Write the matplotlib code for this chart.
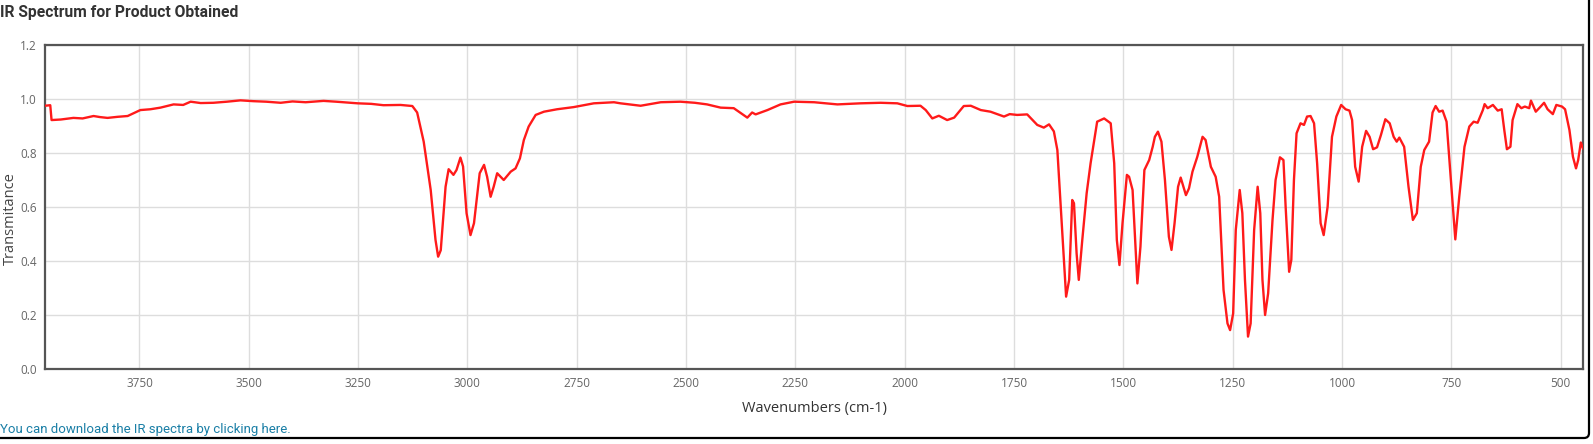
import numpy as np
import matplotlib
matplotlib.use("Agg")
import matplotlib.pyplot as plt
from matplotlib.patches import FancyBboxPatch

# ---------- Data ----------
wavenumber = [
    3966, 3960, 3954, 3951, 3930, 3901, 3880, 3855, 3840, 3823, 3800, 3777, 3748,
    3725, 3702, 3672, 3650, 3633, 3610, 3581, 3550, 3519, 3490, 3460, 3427, 3400,
    3370, 3329, 3300, 3251, 3220, 3192, 3153, 3126, 3115, 3100, 3084, 3073, 3067,
    3061, 3050, 3043, 3032, 3025, 3016, 3010, 3002, 2993, 2985, 2972, 2962, 2955,
    2947, 2940, 2932, 2917, 2901, 2890, 2880, 2871, 2860, 2844, 2825, 2795, 2757,
    2711, 2665, 2650, 2604, 2558, 2513, 2480, 2452, 2421, 2391, 2360, 2349, 2341,
    2314, 2284, 2253, 2207, 2154, 2101, 2055, 2017, 1994, 1964, 1952, 1937, 1922,
    1903, 1887, 1865, 1849, 1826, 1804, 1773, 1760, 1743, 1720, 1697, 1682, 1670,
    1659, 1651, 1640, 1631, 1624, 1617, 1613, 1607, 1602, 1594, 1584, 1575, 1560,
    1544, 1529, 1521, 1515, 1509, 1502, 1492, 1487, 1479, 1473, 1468, 1461, 1452,
    1441, 1433, 1428, 1421, 1413, 1405, 1396, 1390, 1383, 1375, 1369, 1357, 1350,
    1342, 1331, 1319, 1312, 1300, 1289, 1281, 1271, 1262, 1256, 1249, 1243, 1234,
    1228, 1222, 1215, 1209, 1201, 1193, 1187, 1182, 1176, 1169, 1159, 1152, 1142,
    1134, 1129, 1121, 1116, 1110, 1104, 1095, 1087, 1080, 1072, 1064, 1057, 1049,
    1042, 1033, 1023, 1013, 1002, 992, 983, 977, 970, 962, 954, 945, 937, 929, 920,
    911, 901, 891, 882, 875, 869, 858, 848, 838, 829, 820, 812, 801, 793, 786, 778,
    770, 761, 751, 741, 732, 720, 709, 699, 690, 678, 674, 667, 655, 644, 635, 629,
    623, 615, 610, 599, 590, 582, 572, 568, 557, 547, 538, 530, 518, 510, 497, 490,
    480, 472, 465, 460, 454, 449,
]
transmittance = [
    0.975, 0.976, 0.977, 0.922, 0.924, 0.930, 0.928, 0.937, 0.933, 0.930, 0.934, 0.937, 0.959,
    0.962, 0.968, 0.980, 0.978, 0.990, 0.985, 0.986, 0.990, 0.995, 0.992, 0.990, 0.986, 0.991,
    0.988, 0.993, 0.990, 0.984, 0.982, 0.977, 0.978, 0.974, 0.950, 0.842, 0.663, 0.478, 0.416,
    0.440, 0.675, 0.740, 0.719, 0.737, 0.783, 0.750, 0.577, 0.496, 0.540, 0.725, 0.756, 0.712,
    0.638, 0.675, 0.725, 0.700, 0.731, 0.743, 0.780, 0.848, 0.898, 0.941, 0.953, 0.962, 0.970,
    0.984, 0.988, 0.984, 0.975, 0.988, 0.990, 0.986, 0.980, 0.968, 0.966, 0.931, 0.950, 0.943,
    0.959, 0.980, 0.990, 0.988, 0.980, 0.984, 0.986, 0.984, 0.974, 0.975, 0.959, 0.928, 0.938,
    0.922, 0.931, 0.974, 0.975, 0.959, 0.953, 0.935, 0.944, 0.941, 0.943, 0.904, 0.894, 0.906,
    0.880, 0.811, 0.515, 0.268, 0.330, 0.626, 0.614, 0.428, 0.330, 0.478, 0.651, 0.762, 0.916,
    0.928, 0.910, 0.762, 0.478, 0.385, 0.540, 0.719, 0.712, 0.663, 0.478, 0.317, 0.453, 0.737,
    0.774, 0.823, 0.860, 0.879, 0.842, 0.700, 0.490, 0.441, 0.540, 0.675, 0.709, 0.644, 0.669,
    0.731, 0.786, 0.860, 0.848, 0.749, 0.712, 0.638, 0.293, 0.169, 0.144, 0.206, 0.515, 0.663,
    0.577, 0.330, 0.120, 0.169, 0.515, 0.675, 0.577, 0.330, 0.200, 0.280, 0.552, 0.700, 0.784,
    0.774, 0.601, 0.360, 0.404, 0.700, 0.873, 0.910, 0.904, 0.935, 0.937, 0.910, 0.762, 0.540,
    0.496, 0.601, 0.860, 0.935, 0.978, 0.962, 0.957, 0.922, 0.749, 0.694, 0.823, 0.882, 0.860, 0.814, 0.821,
    0.867, 0.925, 0.910, 0.860, 0.842, 0.857, 0.823, 0.675, 0.552, 0.577, 0.749, 0.811, 0.842, 0.950, 0.974, 0.953,
    0.957, 0.916, 0.700, 0.480, 0.638, 0.823, 0.898, 0.916, 0.912, 0.959, 0.981, 0.966, 0.978, 0.957, 0.962, 0.885,
    0.814, 0.823, 0.922, 0.981, 0.966, 0.972, 0.966, 0.994, 0.953, 0.970, 0.986, 0.962, 0.944, 0.978, 0.972, 0.962,
    0.885, 0.786, 0.743, 0.774, 0.839, 0.817,
]

x_ticks = [3750, 3500, 3250, 3000, 2750, 2500, 2250, 2000, 1750, 1500, 1250, 1000, 750, 500]
y_ticks = [0.0, 0.2, 0.4, 0.6, 0.8, 1.0, 1.2]

# ---------- Figure ----------
W, H = 1593, 444
fig = plt.figure(figsize=(W / 100, H / 100), dpi=100)
fig.patch.set_facecolor("white")

ax = fig.add_axes([45 / W, 1 - 369 / H, (1583 - 45) / W, (369 - 45) / H])
ax.plot(wavenumber, transmittance, color="#ff1a1a", lw=1.7, zorder=3)

ax.set_xlim(max(wavenumber), min(wavenumber))
ax.set_ylim(0, 1.2)
ax.set_xticks(x_ticks)
ax.set_yticks(y_ticks)
ax.set_yticklabels([f"{v:.1f}" for v in y_ticks])
ax.grid(True, color="#dddddd", lw=1, zorder=0)
ax.tick_params(length=0, labelsize=8.5, labelcolor="#666666", pad=6)
for tl in ax.get_xticklabels() + ax.get_yticklabels():
    tl.set_family("Open Sans")
for s in ax.spines.values():
    s.set_color("#555555")
    s.set_linewidth(1.6)

ax.set_xlabel("Wavenumbers (cm-1)", family="Open Sans", fontsize=10.5,
              color="#333333", labelpad=8)
ylab = fig.text(10 / W, 1 - 219 / H, "Transmitance", rotation=90, family="Open Sans",
                fontsize=10.5, color="#444444", ha="center", va="center")

# ---------- Card text ----------
title = fig.text(0.0, 1 - 12 / H, "IR Spectrum for Product Obtained", family="Roboto",
                 fontweight="bold", fontsize=11.2, color="#333333", ha="left", va="center")
link = fig.text(0.0, 1 - 429 / H, "You can download the IR spectra by clicking here.",
                family="Roboto", fontsize=9.6, color="#1a7fa6", ha="left", va="center")

# scale text so its extent matches the reference (pixels)
renderer = fig.canvas.get_renderer()
for t, target, axis in [(ylab, 93, "h"), (title, 236, "w"), (link, 292, "w")]:
    bb = t.get_window_extent(renderer)
    size = bb.height if axis == "h" else bb.width
    t.set_fontsize(t.get_fontsize() * target / size)

# card border (only right/bottom visible)
card = FancyBboxPatch((-20, 6), 1589 + 20, H + 20,
                      boxstyle="round,pad=0,rounding_size=5",
                      transform=None, fill=False, ec="black", lw=1.6)
fig.patches.append(card)

fig.savefig("out.png", dpi=100, facecolor="white")
